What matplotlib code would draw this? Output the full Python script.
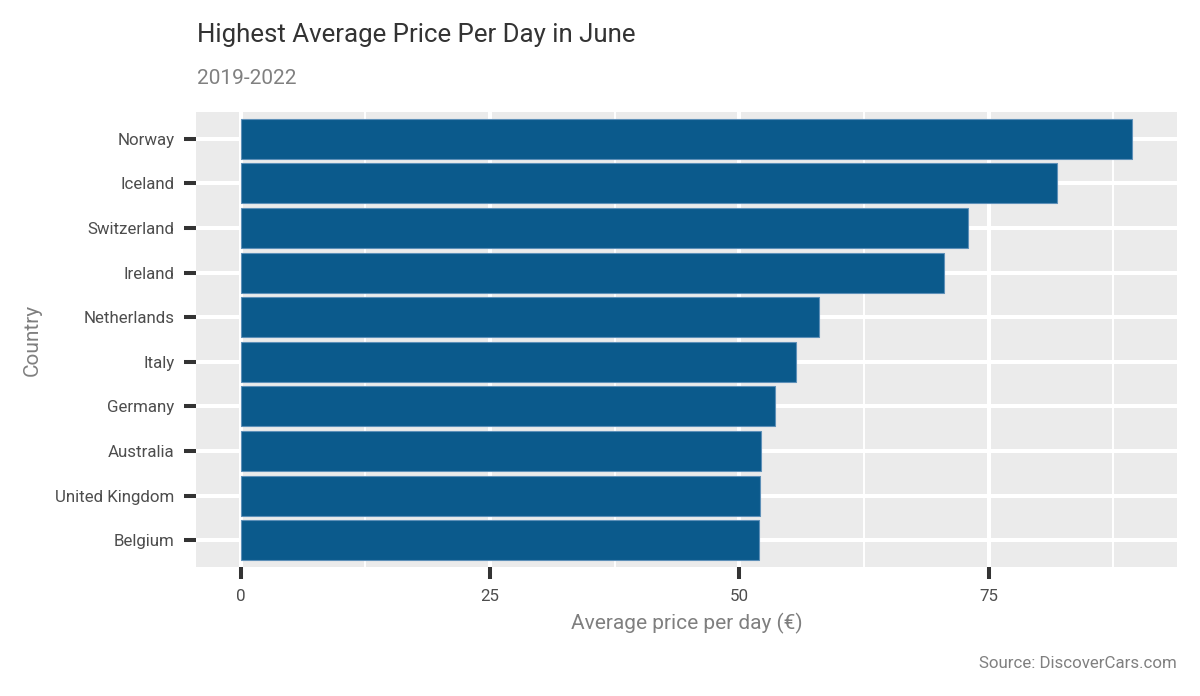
import matplotlib
matplotlib.use("Agg")
import matplotlib.pyplot as plt
from matplotlib.ticker import FixedLocator

countries = ["Norway", "Iceland", "Switzerland", "Ireland", "Netherlands",
             "Italy", "Germany", "Australia", "United Kingdom", "Belgium"]
prices = [89.4, 81.8, 72.9, 70.5, 58.0, 55.7, 53.6, 52.2, 52.1, 52.0]
x_ticks = [0, 25, 50, 75]
x_minor = [12.5, 37.5, 62.5, 87.5]

title = "Highest Average Price Per Day in June"
subtitle = "2019-2022"
x_label = "Average price per day (€)"
y_label = "Country"
caption = "Source: DiscoverCars.com"

plt.rcParams["font.family"] = ["Roboto", "DejaVu Sans"]

W, H = 1200, 696
fig = plt.figure(figsize=(W / 100, H / 100), dpi=100)
ax = fig.add_axes([196 / W, 1 - 567 / H, (1177 - 196) / W, (567 - 112) / H])
ax.set_facecolor("#EBEBEB")

ax.barh(countries[::-1], prices[::-1], height=0.9, color="#0B5A8C",
        edgecolor="#5E90B8", linewidth=0.8, zorder=3)

vmax = max(prices)
ax.set_xlim(-0.05 * vmax, vmax * 1.05)
ax.set_ylim(-0.6, len(countries) - 0.4)

ax.xaxis.set_major_locator(FixedLocator(x_ticks))
ax.xaxis.set_minor_locator(FixedLocator(x_minor))
ax.grid(which="major", axis="both", color="white", linewidth=2.9, zorder=1)
ax.grid(which="minor", axis="x", color="white", linewidth=1.4, zorder=1)
ax.set_axisbelow(True)

for s in ax.spines.values():
    s.set_visible(False)

ax.tick_params(axis="both", which="major", length=8.5, width=2.9,
               color="#333333", labelcolor="#4D4D4D", labelsize=12.2, pad=7)
ax.tick_params(axis="x", which="minor", length=0)

ax.set_xlabel(x_label, fontsize=15, color="#7F7F7F", labelpad=7)
ax.set_ylabel(y_label, fontsize=15, color="#7F7F7F", labelpad=10)

fig.text(197 / W, 1 - 42 / H, title, fontsize=18.6, color="#333333",
         ha="left", va="baseline")
fig.text(197 / W, 1 - 84 / H, subtitle, fontsize=15, color="#808080",
         ha="left", va="baseline")
fig.text(1177 / W, 1 - 663 / H, caption, fontsize=12.2, color="#808080",
         ha="right", va="center")

fig.savefig("out.png", dpi=100, facecolor="white")
